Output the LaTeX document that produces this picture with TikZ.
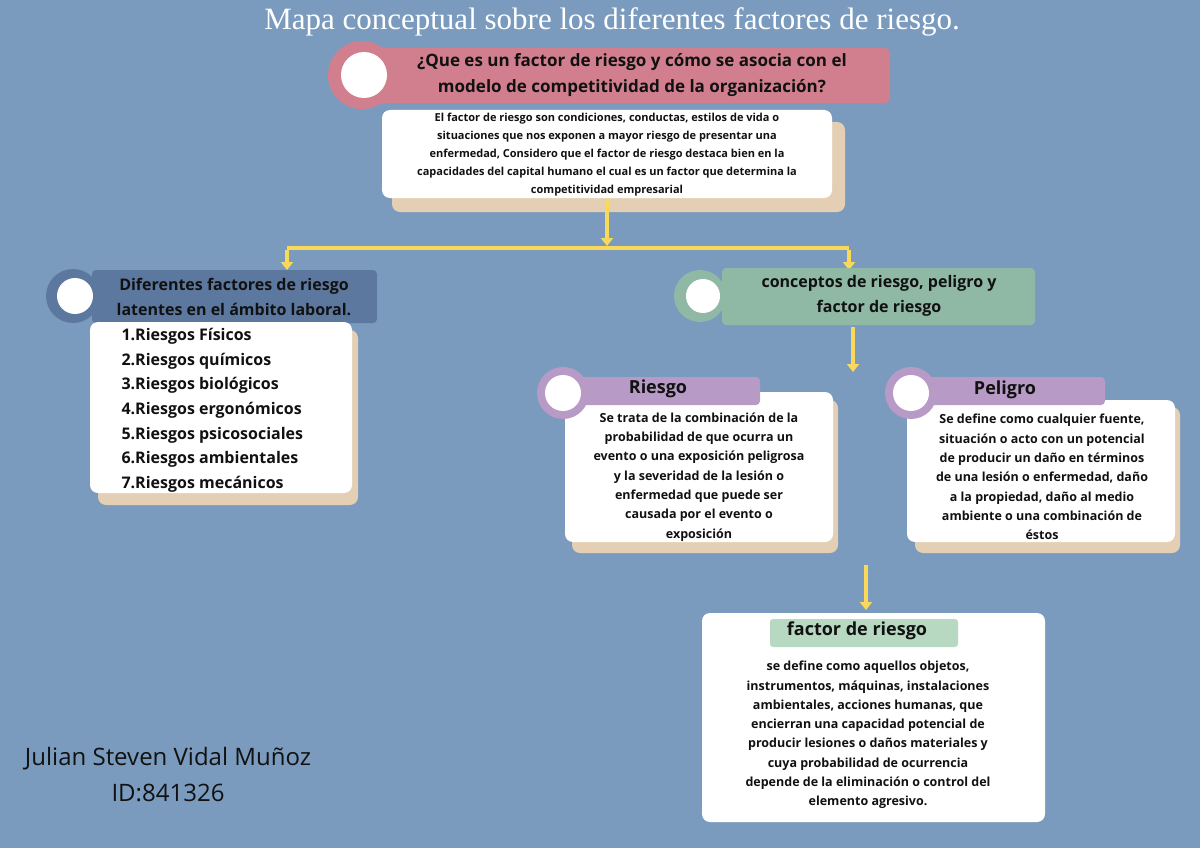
\documentclass[tikz,border=0pt]{standalone}
\usepackage{fontspec}
\setmainfont{Open Sans}
\newfontfamily\titlefont{Liberation Serif}
\definecolor{bg}{HTML}{7A9BBE}
\definecolor{pinkc}{HTML}{D17F8E}
\definecolor{beige}{HTML}{E5CFB4}
\definecolor{bluec}{HTML}{5C789E}
\definecolor{greenc}{HTML}{8FB9A5}
\definecolor{purplec}{HTML}{B89AC6}
\definecolor{yel}{HTML}{F9D85A}
\definecolor{lgreen}{HTML}{B7D8C1}
\definecolor{txt}{HTML}{111111}
\tikzset{
 x=1pt,y=-1pt,
 wbox/.style={fill=white,rounded corners=8pt},
 shadowbox/.style={fill=beige,rounded corners=8pt},
 arr/.style={draw=yel,line width=4pt,-{Triangle[width=12pt,length=8pt]}},
 yline/.style={draw=yel,line width=4pt},
 btxt/.style={font=\fontsize{12}{18}\selectfont\bfseries,text=txt,align=center},
}
\usetikzlibrary{arrows.meta}
\begin{document}
\begin{tikzpicture}
\fill[bg] (0,0) rectangle (1200,848);
\useasboundingbox (0,0) rectangle (1200,848);
\node[text=white,font=\titlefont\fontsize{31}{34}\selectfont] (title) at (612,22) {Mapa conceptual sobre los diferentes factores de riesgo.};
% top
\fill[pinkc,rounded corners=6pt] (355,48) rectangle (890,103);
\fill[pinkc] (362,75) circle (34);
\fill[white] (364,75) circle (23);
\node[font=\fontsize{17}{26}\selectfont\bfseries,text=txt,align=center] (q) at (632,75) {¿Que es un factor de riesgo y cómo se asocia con el\\modelo de competitividad de la organización?};
\fill[shadowbox] (392,122) rectangle (845,212);
\fill[wbox] (382,110) rectangle (832,198);
\node[font=\fontsize{11}{18}\selectfont\bfseries,text=txt,align=center] (def) at (607,155) {El factor de riesgo son condiciones, conductas, estilos de vida o\\situaciones que nos exponen a mayor riesgo de presentar una\\enfermedad, Considero que el factor de riesgo destaca bien en la\\capacidades del capital humano el cual es un factor que determina la\\competitividad empresarial};
\coordinate (s1) at (607,200);
\coordinate (j) at (607,246);
\draw[arr] (s1) -- (j);
\coordinate (jl) at (287,248);
\coordinate (jr) at (849,248);
\draw[yline] (jl) -- (jr);
\coordinate (el) at (287,270);
\coordinate (er) at (849,270);
\draw[arr] ([yshift=-2pt]jl) -- (el);
\draw[arr] ([yshift=-2pt]jr) -- (er);
% left
\fill[bluec,rounded corners=4pt] (92,270) rectangle (377,323);
\fill[bluec] (73,296) circle (27);
\fill[white] (75,296) circle (18);
\node[font=\fontsize{16}{25}\selectfont\bfseries,text=txt,align=center] (lh) at (234,297) {Diferentes factores de riesgo\\latentes en el ámbito laboral.};
\fill[shadowbox] (98,330) rectangle (358,505);
\fill[wbox] (90,322) rectangle (352,493);
\node[font=\fontsize{16}{24.6}\selectfont\bfseries,text=txt,align=left,anchor=north west] (list) at (118,325) {1.Riesgos Físicos\\2.Riesgos químicos\\3.Riesgos biológicos\\4.Riesgos ergonómicos\\5.Riesgos psicosociales\\6.Riesgos ambientales\\7.Riesgos mecánicos};
% green
\fill[greenc,rounded corners=4pt] (722,268) rectangle (1035,325);
\fill[greenc] (700,296) circle (26);
\fill[white] (703,296) circle (17);
\node[font=\fontsize{16}{25}\selectfont\bfseries,text=txt,align=center] (gh) at (879,296) {conceptos de riesgo, peligro y\\factor de riesgo};
\coordinate (g1) at (853,327);
\coordinate (g2) at (853,372);
\draw[arr] (g1) -- (g2);
% riesgo
\fill[shadowbox] (572,400) rectangle (838,553);
\fill[wbox] (565,392) rectangle (833,542);
\fill[purplec,rounded corners=4pt] (575,377) rectangle (760,405);
\fill[purplec] (563,393) circle (26);
\fill[white] (563,393) circle (18);
\node[font=\fontsize{18}{20}\selectfont\bfseries,text=txt] (rh) at (658,389) {Riesgo};
\node[btxt,font=\fontsize{12.5}{19.3}\selectfont\bfseries] (rt) at (699,477) {Se trata de la combinación de la\\probabilidad de que ocurra un\\evento o una exposición peligrosa\\y la severidad de la lesión o\\enfermedad que puede ser\\causada por el evento o\\exposición};
% peligro
\fill[shadowbox] (915,407) rectangle (1180,553);
\fill[wbox] (907,400) rectangle (1175,542);
\fill[purplec,rounded corners=4pt] (915,377) rectangle (1105,405);
\fill[purplec] (911,393) circle (26);
\fill[white] (911,393) circle (18);
\node[font=\fontsize{18}{20}\selectfont\bfseries,text=txt] (ph) at (1005,390) {Peligro};
\node[btxt,font=\fontsize{12.5}{19.3}\selectfont\bfseries] (pt) at (1042,477) {Se define como cualquier fuente,\\situación o acto con un potencial\\de producir un daño en términos\\de una lesión o enfermedad, daño\\a la propiedad, daño al medio\\ambiente o una combinación de\\éstos};
\coordinate (f1) at (866,565);
\coordinate (f2) at (866,610);
\draw[arr] (f1) -- (f2);
% factor
\fill[wbox] (702,613) rectangle (1045,822);
\fill[lgreen,rounded corners=3pt] (770,619) rectangle (958,647);
\node[font=\fontsize{18}{20}\selectfont\bfseries,text=txt] (fh) at (857,631) {factor de riesgo};
\node[btxt,font=\fontsize{12.5}{19.3}\selectfont\bfseries] (ft) at (868,735) {se define como aquellos objetos,\\instrumentos, máquinas, instalaciones\\ambientales, acciones humanas, que\\encierran una capacidad potencial de\\producir lesiones o daños materiales y\\cuya probabilidad de ocurrencia\\depende de la eliminación o control del\\elemento agresivo.};
% name
\node[font=\fontsize{24}{36}\selectfont,text=txt,align=center] (name) at (168,775) {Julian Steven Vidal Muñoz\\ID:841326};
\end{tikzpicture}
\end{document}
